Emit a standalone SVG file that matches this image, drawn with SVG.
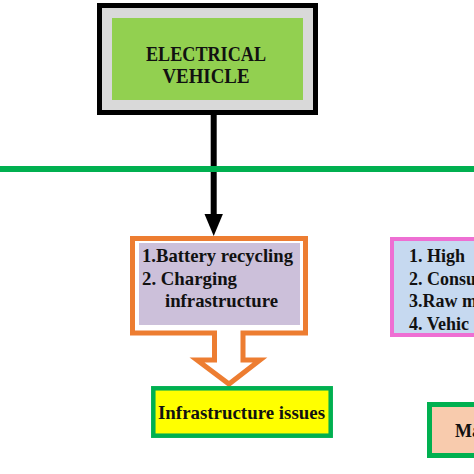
<svg xmlns="http://www.w3.org/2000/svg" width="474" height="474" viewBox="0 0 474 474">
<style>
text{font-family:"Liberation Serif","Times New Roman",serif;font-weight:bold;fill:#111;}
.t17{font-size:19px;}
.t18{font-size:18px;}
</style>
<rect width="474" height="474" fill="#fff"/>
<g id="connectors">
<line x1="213.7" y1="113" x2="213.7" y2="216" stroke="#000" stroke-width="6"/>
<path d="M204.5,214 L222.9,214 L213.7,236 Z" fill="#000"/>
<line x1="0" y1="169" x2="474" y2="169" stroke="#00b050" stroke-width="6"/>
</g>
<g id="electrical-vehicle">
<rect x="99.5" y="5.5" width="216" height="107" fill="#d9d9d9" stroke="#000" stroke-width="5"/>
<rect x="112" y="18" width="191" height="82" fill="#92d050"/>
<text x="206" y="61" font-size="21.5" text-anchor="middle" textLength="120" lengthAdjust="spacingAndGlyphs">ELECTRICAL</text>
<text x="206" y="83" font-size="21.5" text-anchor="middle" textLength="87" lengthAdjust="spacingAndGlyphs">VEHICLE</text>
</g>
<g id="issues-list">
<path d="M243,333 H305.5 V238.5 H132.5 V333 H214.5 V360 H197 L229,384 L260,360 H243 Z" fill="#fff" stroke="#ed7d31" stroke-width="5" stroke-linejoin="miter"/>
<rect x="139" y="243" width="161" height="82" fill="#ccc0da"/>
<text x="142" y="262" class="t17" textLength="151" lengthAdjust="spacingAndGlyphs">1.Battery recycling</text>
<text x="142" y="285" class="t17" textLength="95" lengthAdjust="spacingAndGlyphs">2. Charging</text>
<text x="165" y="307" class="t17" textLength="113" lengthAdjust="spacingAndGlyphs">infrastructure</text>
</g>
<g id="infrastructure-issues">
<rect x="153.3" y="388.3" width="177.4" height="47.4" fill="#ffff00" stroke="#00b050" stroke-width="4.5"/>
<text x="158" y="419" class="t17" textLength="167" lengthAdjust="spacingAndGlyphs">Infrastructure issues</text>
</g>
<g id="market-list">
<rect x="392" y="239" width="100" height="96" fill="#c6d9f0" stroke="#ee6fd3" stroke-width="4"/>
<text x="409" y="262" class="t18">1. High</text>
<text x="409" y="285" class="t18">2. Consu</text>
<text x="409" y="307" class="t18">3.Raw m</text>
<text x="409" y="330" class="t18">4. Vehic</text>
</g>
<g id="market-issues">
<rect x="429.5" y="404.5" width="80" height="51" fill="#f8cbad" stroke="#00b050" stroke-width="5"/>
<text x="455" y="437" class="t18">Ma</text>
</g>
</svg>
